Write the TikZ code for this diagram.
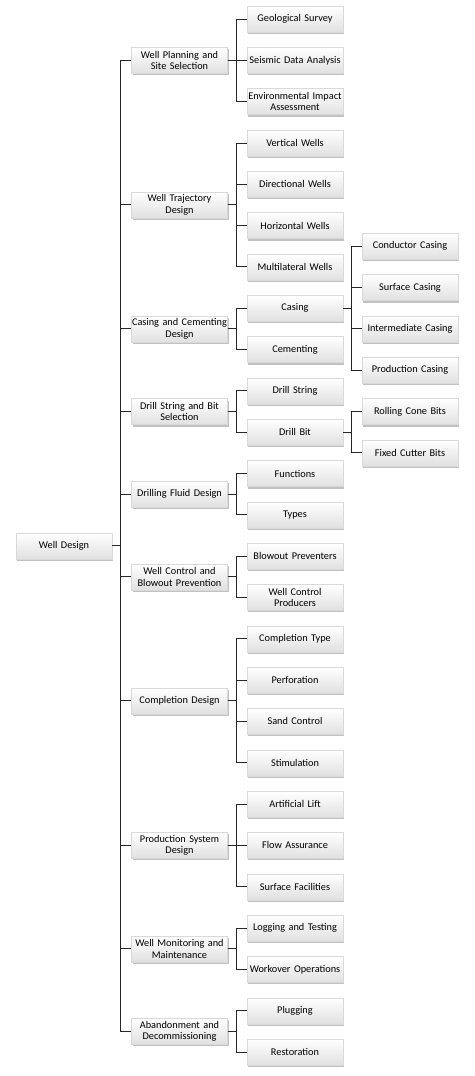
\documentclass[tikz,border=0pt]{standalone}
\usepackage{fontspec}
\setmainfont{Carlito}
\usetikzlibrary{shadows}

\begin{document}
\begin{tikzpicture}[x=1pt, y=-1pt,
    box/.style={rectangle, minimum width=96pt, minimum height=26pt, text width=95pt, inner sep=0.5pt,
      align=center, font=\fontsize{10.3}{11.5}\selectfont, top color=white, bottom color=black!12,
      draw=black!15, line width=0.3pt,
      drop shadow={shadow xshift=1.2pt, shadow yshift=-2pt, opacity=0.35, fill=black!70}},
    link/.style={line width=0.9pt, black!85}]
      \useasboundingbox (0,0) rectangle (474,1076);
      \node[box] (wd) at (64,545.8) {Well Design};
      \foreach \y/\n/\t in {60.3/wp/{Well Planning and\\Site Selection}, 204.9/wt/{Well Trajectory\\Design},
          328.9/cc/{Casing and Cementing\\Design}, 411.5/ds/{Drill String and Bit\\Selection},
          494.2/df/{Drilling Fluid Design}, 576.8/wc/{Well Control and\\Blowout Prevention},
          700.8/cd/{Completion Design}, 845.4/ps/{Production System\\Design},
          948.7/wm/{Well Monitoring and\\Maintenance}, 1031.3/ab/{Abandonment and\\Decommissioning}}
        \node[box] (\n) at (179.5,\y) {\t};
      \foreach \i/\n/\t in {1/gs/{Geological Survey}, 2/sd/{Seismic Data Analysis},
          3/ei/{Environmental Impact\\Assessment}, 4/vw/{Vertical Wells}, 5/dw/{Directional Wells},
          6/hw/{Horizontal Wells}, 7/mw/{Multilateral Wells}, 8/cs/{Casing}, 9/cm/{Cementing},
          10/st/{Drill String}, 11/bt/{Drill Bit}, 12/fn/{Functions}, 13/ty/{Types},
          14/bp/{Blowout Preventers}, 15/wp2/{Well Control\\Producers}, 16/ct/{Completion Type},
          17/pf/{Perforation}, 18/sc/{Sand Control}, 19/sm/{Stimulation}, 20/al/{Artificial Lift},
          21/fa/{Flow Assurance}, 22/sf/{Surface Facilities}, 23/lt/{Logging and Testing},
          24/wo/{Workover Operations}, 25/pl/{Plugging}, 26/rs/{Restoration}}
        \node[box] (\n) at (295,19+41.32*\i-41.32) {\t};
      \node[box] (cn) at (410,246.3) {Conductor Casing};
      \node[box] (su) at (410,287.6) {Surface Casing};
      \node[box] (im) at (410,328.9) {Intermediate Casing};
      \node[box] (pc) at (410,370.2) {Production Casing};
      \node[box] (rc) at (410,411.5) {Rolling Cone Bits};
      \node[box] (fc) at (410,452.9) {Fixed Cutter Bits};
      \foreach \c in {wp,wt,cc,ds,df,wc,cd,ps,wm,ab}
        \draw[link] (wd.east) -- ++(8,0) |- (\c.west);
      \foreach \p/\c in {wp/gs, wp/sd, wp/ei, wt/vw, wt/dw, wt/hw, wt/mw, cc/cs, cc/cm, ds/st, ds/bt,
          df/fn, df/ty, wc/bp, wc/wp2, cd/ct, cd/pf, cd/sc, cd/sm, ps/al, ps/fa, ps/sf, wm/lt, wm/wo,
          ab/pl, ab/rs, cs/cn, cs/su, cs/im, cs/pc, bt/rc, bt/fc}
        \draw[link] (\p.east) -- ++(8.5,0) |- (\c.west);
    \end{tikzpicture}
\end{document}
